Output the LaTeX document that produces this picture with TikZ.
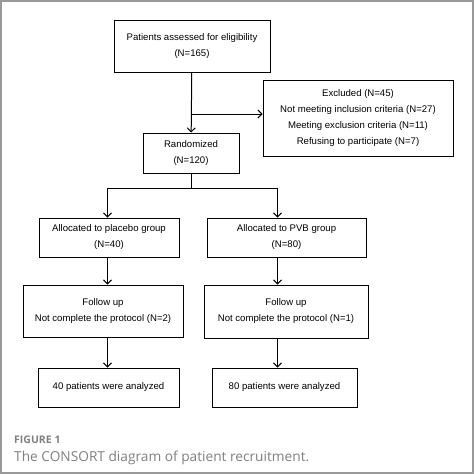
\documentclass[tikz,border=0pt]{standalone}
\usepackage{fontspec}
\setmainfont{Liberation Sans}
\newfontfamily\capfont{Open Sans}
\usetikzlibrary{arrows.meta,positioning}

\begin{document}
\begin{tikzpicture}[
    x=1pt, y=-1pt,
    box/.style={draw, line width=1pt, align=center, inner sep=2pt, font=\fontsize{9.6}{16}\selectfont},
    arr/.style={-{Straight Barb[length=4pt, width=8pt]}, line width=1pt},
    lin/.style={line width=1pt},
    captext/.style={anchor=base west, inner sep=0pt, text=black!50}
]
\useasboundingbox (0,0) rectangle (474,474);
\draw[black!40, line width=2pt] (1,1) rectangle (473,473);
% boxes
\node[box, minimum width=156pt, minimum height=52pt] (elig) at (192,46) {Patients assessed for eligibility\\(N=165)};
\node[box, minimum width=190pt, minimum height=76pt] (excl) at (358,118) {Excluded (N=45)\\Not meeting inclusion criteria (N=27)\\Meeting exclusion criteria (N=11)\\Refusing to participate (N=7)};
\node[box, minimum width=96pt, minimum height=40pt] (rand) at (191,153) {Randomized\\(N=120)};
\node[box, minimum width=140pt, minimum height=39pt] (plac) at (109,237.5) {Allocated to placebo group\\(N=40)};
\node[box, minimum width=159pt, minimum height=39pt] (pvb) at (286.5,237.5) {Allocated to PVB group\\(N=80)};
\node[box, minimum width=160pt, minimum height=52pt] (fupl) at (103,311) {Follow up\\Not complete the protocol (N=2)};
\node[box, minimum width=164pt, minimum height=53pt] (fupr) at (286,311.5) {Follow up\\Not complete the protocol (N=1)};
\node[box, minimum width=141pt, minimum height=39pt] (anal) at (108.5,387.5) {40 patients were analyzed};
\node[box, minimum width=145pt, minimum height=39pt] (anar) at (284.5,387.5) {80 patients were analyzed};
% connectors
\coordinate (lc) at (107.5,0);
\coordinate (rc) at (277.5,0);
\coordinate (split) at (191,188);
\draw[arr] (elig) -- (rand);
\draw[arr] (elig.south |- 0,114) -- (excl.west |- 0,114);
\draw[lin] (rand) -- (split);
\draw[arr] (split) -| (plac.north -| lc);
\draw[arr] (split) -| (pvb.north -| rc);
\draw[arr] (plac.south -| lc) -- (fupl.north -| lc);
\draw[arr] (pvb.south -| rc) -- (fupr.north -| rc);
\draw[arr] (fupl.south -| lc) -- (anal.north -| lc);
\draw[arr] (fupr.south -| rc) -- (anar.north -| rc);
% caption
\node[captext, font=\capfont\fontsize{10.5}{12}\selectfont\bfseries] (fig) at (14,443) {FIGURE 1};
\node[captext, font=\capfont\fontsize{13.7}{15}\selectfont] (title) at (14,461) {The CONSORT diagram of patient recruitment.};
\end{tikzpicture}
\end{document}
